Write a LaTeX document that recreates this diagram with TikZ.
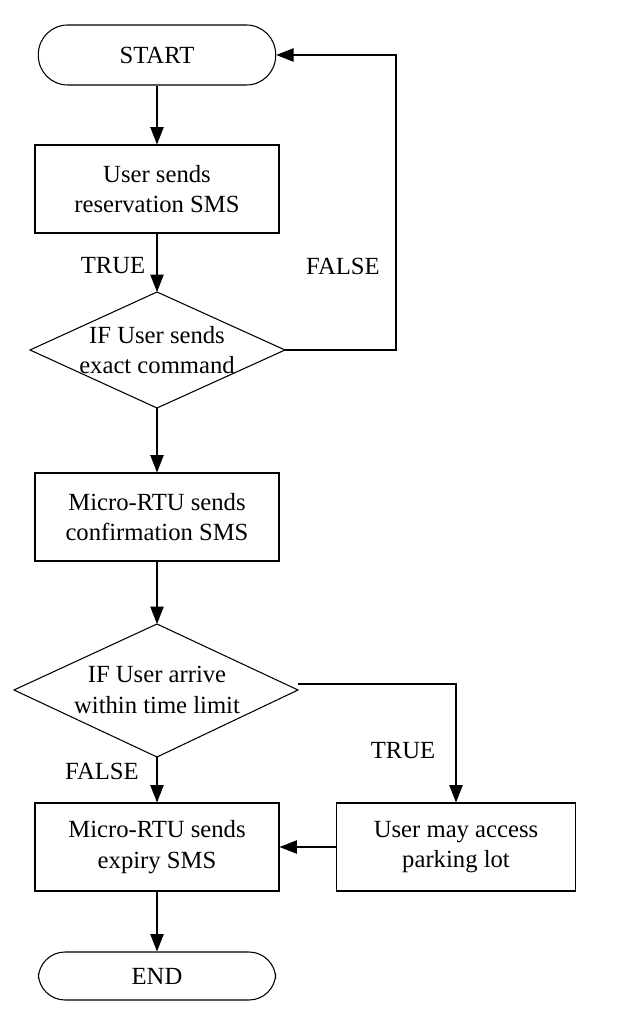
\documentclass[tikz,border=0pt]{standalone}
\usepackage{fontspec}
\setmainfont{Liberation Serif}
\usetikzlibrary{arrows.meta,shapes.geometric}
\begin{document}
\begin{tikzpicture}[x=0.75pt,y=-0.75pt,
  every node/.style={font=\fontsize{18.5}{23}\selectfont, align=center, inner sep=0pt},
  box/.style={draw, line width=0.8pt, minimum width=183pt, minimum height=66pt},
  term/.style={draw, line width=0.8pt, rounded corners=20pt, minimum width=178pt, minimum height=36pt},
  arr/.style={line width=0.8pt, -{Triangle[length=13pt,width=10pt]}},
  lbl/.style={font=\fontsize{18.5}{23}\selectfont}]
\useasboundingbox (0,0) rectangle (633,1030);
\node[term, minimum height=45pt, rounded corners=22pt] (start) at (157,55) {START};
\node[box] (b1) at (157,189) {User sends\\reservation SMS};
\draw[line width=0.8pt] (30,350) -- (157,292) -- (285,350) -- (157,408) -- cycle;
\coordinate (d1t) at (157,292); \coordinate (d1b) at (157,408); \coordinate (d1r) at (285,350);
\node (d1) at (157,350) {IF User sends\\exact command};
\node[box] (b2) at (157,517) {Micro-RTU sends\\confirmation SMS};
\draw[line width=0.8pt] (14,690) -- (157,624) -- (298,690) -- (157,757) -- cycle;
\coordinate (d2t) at (157,624); \coordinate (d2b) at (157,757); \coordinate (d2r) at (298,684);
\node (d2) at (157,690) {IF User arrive\\within time limit};
\node[box] (b3) at (157,847) {Micro-RTU sends\\expiry SMS};
\node[box, minimum width=179pt] (b4) at (456,847) {User may access\\parking lot};
\node[term] (end) at (157,976) {END};
\coordinate (c1) at (396,350); \coordinate (c2) at (396,55);
\coordinate (c3) at (456,684);
\draw[arr] (start) -- (b1);
\draw[arr] (b1) -- (d1t);
\draw[arr] (d1r) -- (c1) -- (c2) -- (start.east);
\draw[arr] (d1b) -- (b2);
\draw[arr] (b2) -- (d2t);
\draw[arr] (d2r) -- (c3) -- (b4);
\draw[arr] (d2b) -- (b3);
\draw[arr] (b4) -- (b3);
\draw[arr] (b3) -- (end);
\node[lbl] (t1) at (113,266) {TRUE};
\node[lbl] (f1) at (343,266) {FALSE};
\node[lbl] (t2) at (403,751) {TRUE};
\node[lbl] (f2) at (102,771) {FALSE};
\end{tikzpicture}
\end{document}
